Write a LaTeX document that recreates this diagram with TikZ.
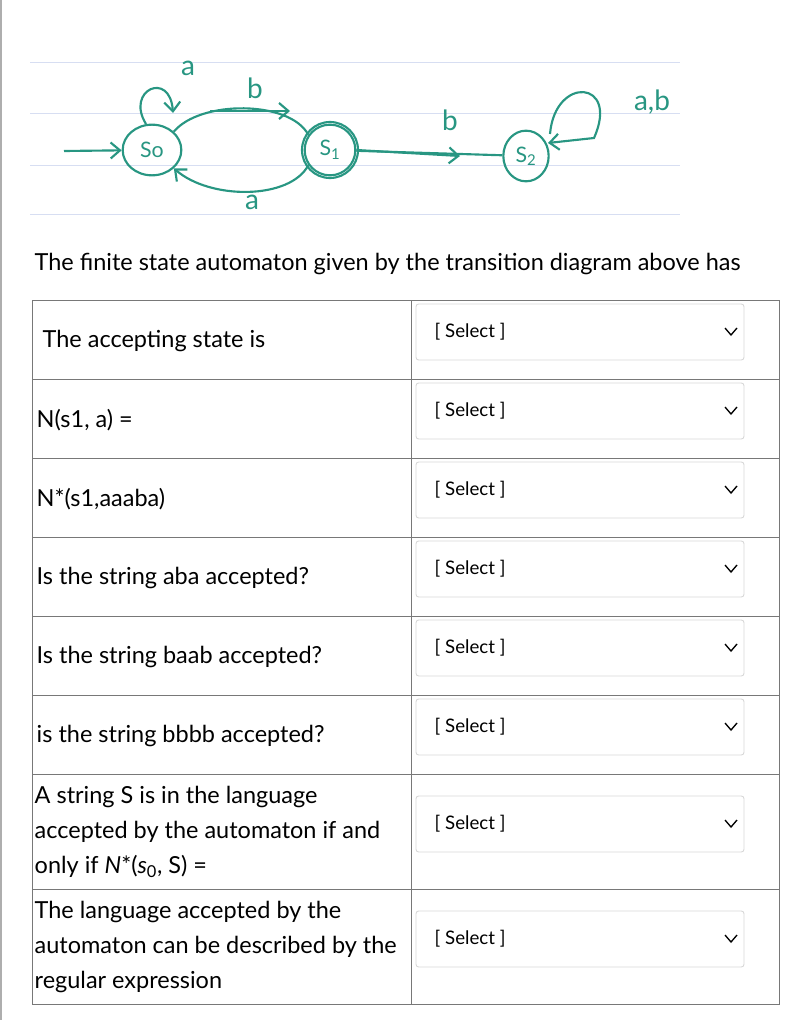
\documentclass[tikz,border=0pt]{standalone}
\usepackage{fontspec}
\setmainfont{Lato}
\usetikzlibrary{arrows.meta,shapes.geometric}
\definecolor{pen}{RGB}{40,150,130}
\definecolor{rule}{RGB}{120,120,120}
\definecolor{boxc}{RGB}{215,215,215}
\definecolor{paper}{RGB}{215,222,242}
\tikzset{
  hand/.style={draw=pen,line width=1.6pt},
  tip/.style={-{Straight Barb[length=7pt,width=12pt]}},
  st/.style={hand,ellipse,inner sep=0pt,minimum width=44pt,minimum height=38pt,font=\fontsize{16}{18}\selectfont\color{pen}},
  lab/.style={font=\fontsize{21}{24}\selectfont\color{pen}},
  sel/.style={draw=boxc,rounded corners=2pt,line width=0.7pt},
  qtext/.style={anchor=west,font=\fontsize{17.6}{26.5}\selectfont,align=left},
  stext/.style={anchor=west,font=\fontsize{14}{16}\selectfont},
  grid/.style={draw=rule,line width=0.7pt}
}
\begin{document}
\begin{tikzpicture}[x=0.75pt,y=-0.75pt]
\useasboundingbox (0,0) rectangle (786,1020);
\draw[rule!60,line width=1pt] (1,0) -- (1,1020);
% paper lines
\foreach \yy in {62,113,165,214} \draw[paper,line width=0.5pt] (30,\yy) -- (680,\yy);
% automaton
\node[st] (s0) at (152,150) {So};
\node[st,minimum width=38pt,minimum height=38pt] (s1) at (330,150) {S\textsubscript{1}};
\draw[hand] (s1) circle[radius=21pt];
\node[st,minimum width=34pt,minimum height=38pt] (s2) at (526,156) {S\textsubscript{2}};
\coordinate (in) at (64,151);
\draw[hand,tip] (in) -- (s0);
\coordinate (l0a) at (146,124);
\coordinate (l0b) at (173,113);
\draw[hand,tip] (l0a) .. controls (125,90) and (170,70) .. (l0b);
\node[lab] (la) at (188,68) {a};
\draw[hand] (s0.40) .. controls (200,100) and (290,100) .. (s1.145);
\draw[hand,tip] (210,111) -- (290,111);
\node[lab] (lb) at (255,88) {b};
\draw[hand,tip] (s1.215) .. controls (290,200) and (210,200) .. (s0.-40);
\node[lab] (la2) at (252,202) {a};
\draw[hand] (s1) -- (s2);
\draw[hand,tip] (s1.east) -- (460,156);
\node[lab] (lb2) at (450,120) {b};
\coordinate (l2a) at (548,143);
\coordinate (l2b) at (550,134);
\draw[hand,tip] (l2b) .. controls (555,75) and (620,80) .. (594,138) -- (l2a);
\node[lab] (lab2) at (652,102) {a,b};
% heading
\node[anchor=west,font=\fontsize{17.6}{20}\selectfont] (h) at (30,264) {The finite state automaton given by the transition diagram above has};
% table
\draw[grid] (32,300) rectangle (779,1004);
\draw[grid] (411,300) -- (411,1004);
\foreach \yy in {379,458,537,616,695,774,889} \draw[grid] (32,\yy) -- (779,\yy);
\node[qtext] (q1) at (38,341) {The accepting state is};
\node[qtext] (q2) at (32,420) {N(s1, a) =};
\node[qtext] (q3) at (32,499) {N*(s1,aaaba)};
\node[qtext] (q4) at (32,578) {Is the string aba accepted?};
\node[qtext] (q5) at (32,657) {Is the string baab accepted?};
\node[qtext] (q6) at (32,736) {is the string bbbb accepted?};
\node[qtext] (q7) at (30,832) {A string S is in the language\\accepted by the automaton if and\\only if \textit{N}*(\textit{s}\textsubscript{0}, S) =};
\node[qtext] (q8) at (30,947) {The language accepted by the\\automaton can be described by the\\regular expression};
\foreach \n/\yy in {1/332,2/411,3/490,4/569,5/648,6/727,7/824,8/939}{
  \draw[sel] (416,\yy-28) rectangle (744,\yy+28);
  \node[stext] (s\n) at (430,\yy) {[ Select ]};
  \draw[line width=1pt] (725,\yy-4) -- (731,\yy+3) -- (737,\yy-4);
}
\end{tikzpicture}
\end{document}
